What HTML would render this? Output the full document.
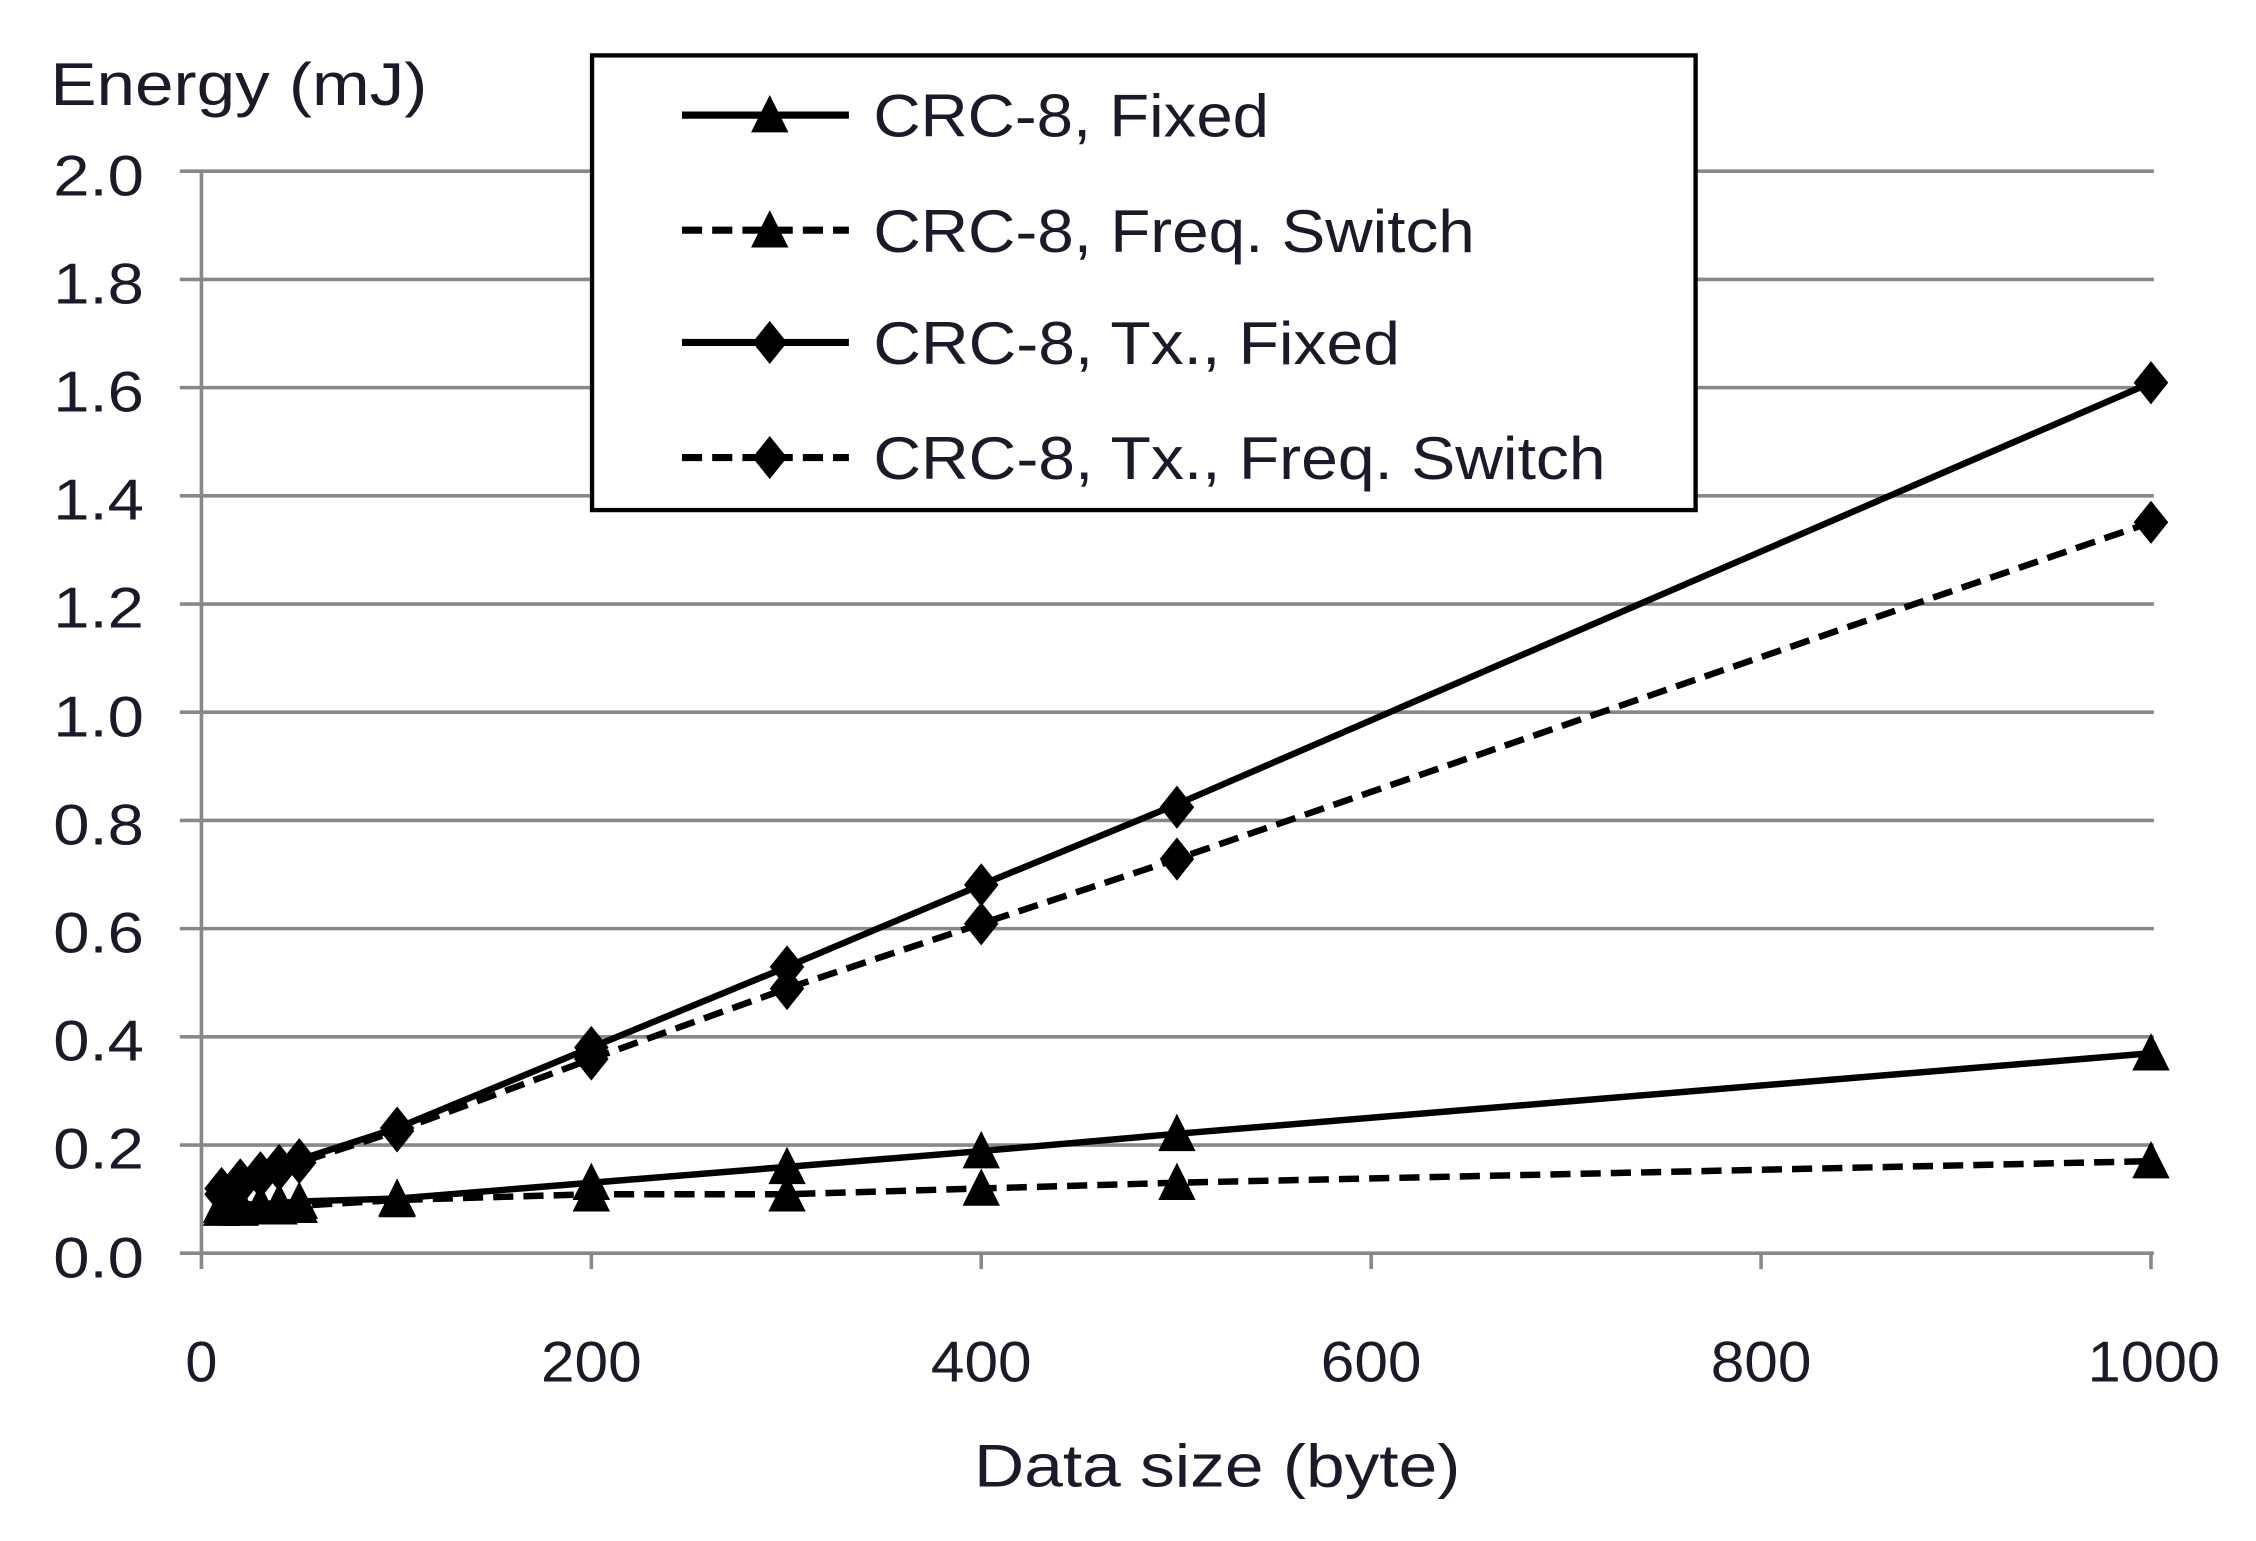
<!DOCTYPE html>
<html><head><meta charset="utf-8"><style>
html,body{margin:0;padding:0;background:#fff;}
svg{display:block;}
text{font-family:"Liberation Sans",sans-serif;fill:#1a1a2a;}
</style></head><body>
<svg width="2256" height="1541" viewBox="0 0 1568 1071" preserveAspectRatio="none" xmlns="http://www.w3.org/2000/svg">
<defs>
<path id="tri" d="M0,-16 L13,10 L-13,10 Z" fill="#000"/>
<path id="dia" d="M0,-15 L12,0 L0,15 L-12,0 Z" fill="#000"/>
</defs>
<g stroke="#888" stroke-width="2.5">
<line x1="125" y1="871" x2="1497" y2="871"/>
<line x1="125" y1="795.8" x2="1497" y2="795.8"/>
<line x1="125" y1="720.6" x2="1497" y2="720.6"/>
<line x1="125" y1="645.4" x2="1497" y2="645.4"/>
<line x1="125" y1="570.2" x2="1497" y2="570.2"/>
<line x1="125" y1="495" x2="1497" y2="495"/>
<line x1="125" y1="419.8" x2="1497" y2="419.8"/>
<line x1="125" y1="344.6" x2="1497" y2="344.6"/>
<line x1="125" y1="269.4" x2="1497" y2="269.4"/>
<line x1="125" y1="194.2" x2="1497" y2="194.2"/>
<line x1="125" y1="119" x2="1497" y2="119"/>
<line x1="140" y1="119" x2="140" y2="882"/>
<line x1="411" y1="871" x2="411" y2="882"/>
<line x1="682" y1="871" x2="682" y2="882"/>
<line x1="953" y1="871" x2="953" y2="882"/>
<line x1="1224" y1="871" x2="1224" y2="882"/>
<line x1="1495" y1="871" x2="1495" y2="882"/>
</g>
<g font-size="40" text-anchor="end">
<text x="100" y="136" textLength="63" lengthAdjust="spacingAndGlyphs">2.0</text>
<text x="100" y="211" textLength="63" lengthAdjust="spacingAndGlyphs">1.8</text>
<text x="100" y="286" textLength="63" lengthAdjust="spacingAndGlyphs">1.6</text>
<text x="100" y="361" textLength="63" lengthAdjust="spacingAndGlyphs">1.4</text>
<text x="100" y="436" textLength="63" lengthAdjust="spacingAndGlyphs">1.2</text>
<text x="100" y="512" textLength="63" lengthAdjust="spacingAndGlyphs">1.0</text>
<text x="100" y="587" textLength="63" lengthAdjust="spacingAndGlyphs">0.8</text>
<text x="100" y="662" textLength="63" lengthAdjust="spacingAndGlyphs">0.6</text>
<text x="100" y="737" textLength="63" lengthAdjust="spacingAndGlyphs">0.4</text>
<text x="100" y="812" textLength="63" lengthAdjust="spacingAndGlyphs">0.2</text>
<text x="100" y="888" textLength="63" lengthAdjust="spacingAndGlyphs">0.0</text>
</g>
<g font-size="40" text-anchor="middle">
<text x="140" y="960">0</text>
<text x="411" y="960" textLength="70" lengthAdjust="spacingAndGlyphs">200</text>
<text x="682" y="960" textLength="70" lengthAdjust="spacingAndGlyphs">400</text>
<text x="953" y="960" textLength="70" lengthAdjust="spacingAndGlyphs">600</text>
<text x="1224" y="960" textLength="70" lengthAdjust="spacingAndGlyphs">800</text>
<text x="1497" y="960" textLength="92" lengthAdjust="spacingAndGlyphs">1000</text>
</g>
<text x="677" y="1033" font-size="42" textLength="338" lengthAdjust="spacingAndGlyphs">Data size (byte)</text>
<text x="35" y="73" font-size="42" textLength="262" lengthAdjust="spacingAndGlyphs">Energy (mJ)</text>

<g fill="none" stroke="#000" stroke-width="4.5">
<polyline points="154,838 167,837 181,837 194,836 208,835 276,833 411,822 547,811 682,800 818,788 1495,732"/>
<polyline stroke-dasharray="14,7" points="154,840 167,840 181,839 194,839 208,838 276,834 411,830 547,830 682,826 818,822 1495,807"/>
<polyline points="154,826 167,820 181,815 194,810 208,806 276,784 411,728 547,672 682,615 818,559 1495,266"/>
<polyline stroke-dasharray="14,7" points="154,830 167,824 181,818 194,813 208,808 276,786 411,736 547,687 682,642 818,597 1495,363"/>
</g>
<g>
<use href="#tri" x="154" y="840"/><use href="#tri" x="167" y="839"/><use href="#tri" x="181" y="839"/><use href="#tri" x="194" y="838"/><use href="#tri" x="208" y="837"/>
<use href="#tri" x="276" y="835"/><use href="#tri" x="411" y="824"/><use href="#tri" x="547" y="813"/><use href="#tri" x="682" y="802"/><use href="#tri" x="818" y="790"/><use href="#tri" x="1495" y="734"/>
<use href="#tri" x="154" y="842"/><use href="#tri" x="167" y="842"/><use href="#tri" x="181" y="841"/><use href="#tri" x="194" y="841"/><use href="#tri" x="208" y="840"/>
<use href="#tri" x="276" y="836"/><use href="#tri" x="411" y="832"/><use href="#tri" x="547" y="832"/><use href="#tri" x="682" y="828"/><use href="#tri" x="818" y="824"/><use href="#tri" x="1495" y="809"/>
<use href="#dia" x="154" y="826"/><use href="#dia" x="167" y="820"/><use href="#dia" x="181" y="815"/><use href="#dia" x="194" y="810"/><use href="#dia" x="208" y="806"/>
<use href="#dia" x="276" y="784"/><use href="#dia" x="411" y="728"/><use href="#dia" x="547" y="672"/><use href="#dia" x="682" y="615"/><use href="#dia" x="818" y="561"/><use href="#dia" x="1495" y="266"/>
<use href="#dia" x="154" y="830"/><use href="#dia" x="167" y="824"/><use href="#dia" x="181" y="818"/><use href="#dia" x="194" y="813"/><use href="#dia" x="208" y="808"/>
<use href="#dia" x="276" y="786"/><use href="#dia" x="411" y="736"/><use href="#dia" x="547" y="687"/><use href="#dia" x="682" y="642"/><use href="#dia" x="818" y="597"/><use href="#dia" x="1495" y="363"/>
</g>

<rect x="411.5" y="38.5" width="767" height="316" fill="#fff" stroke="#000" stroke-width="3"/>
<g stroke="#000" stroke-width="5">
<line x1="474" y1="80" x2="590" y2="80"/>
<line x1="474" y1="160" x2="590" y2="160" stroke-dasharray="14,7"/>
<line x1="474" y1="238" x2="590" y2="238"/>
<line x1="474" y1="318" x2="590" y2="318" stroke-dasharray="14,7"/>
</g>
<use href="#tri" x="535" y="82"/>
<use href="#tri" x="535" y="162"/>
<use href="#dia" x="535" y="238"/>
<use href="#dia" x="535" y="318"/>
<g font-size="42">
<text x="607" y="95" textLength="275" lengthAdjust="spacingAndGlyphs">CRC-8, Fixed</text>
<text x="607" y="175" textLength="418" lengthAdjust="spacingAndGlyphs">CRC-8, Freq. Switch</text>
<text x="607" y="253" textLength="366" lengthAdjust="spacingAndGlyphs">CRC-8, Tx., Fixed</text>
<text x="607" y="333" textLength="509" lengthAdjust="spacingAndGlyphs">CRC-8, Tx., Freq. Switch</text>
</g>
</svg>
</body></html>
